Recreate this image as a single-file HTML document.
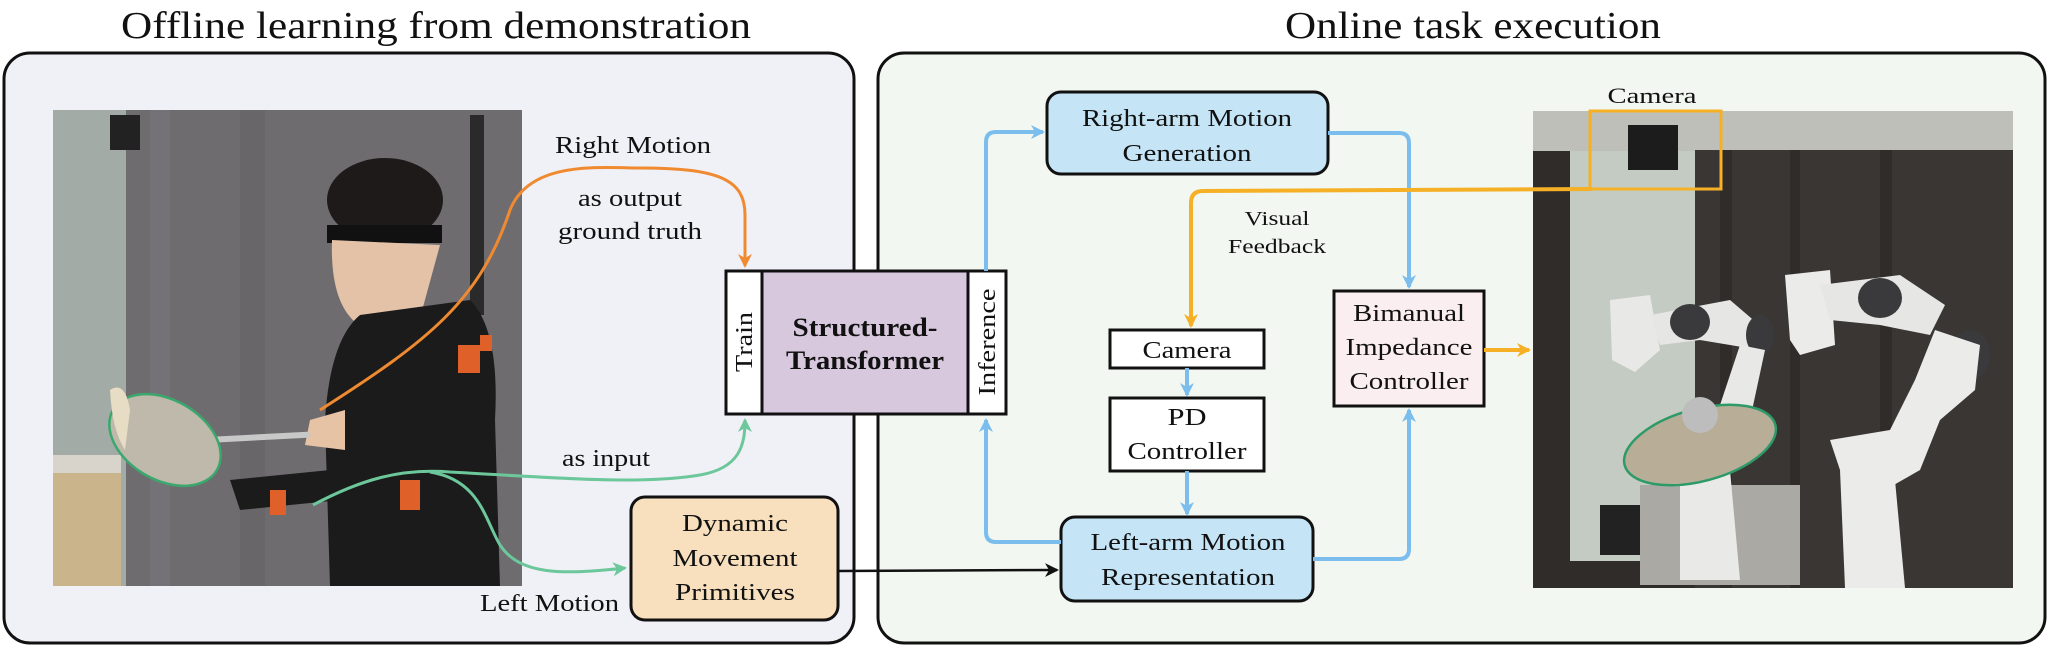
<!DOCTYPE html>
<html><head><meta charset="utf-8"><style>
html,body{margin:0;padding:0;background:#fff;}
svg{display:block;}
text{font-family:"Liberation Serif","Times New Roman",Times,serif;fill:#111;}
</style></head><body>
<svg width="2048" height="646" viewBox="0 0 2048 646" xmlns="http://www.w3.org/2000/svg" font-family="Liberation Serif, Times New Roman, serif">
<defs>
<marker id="ay" markerWidth="16" markerHeight="16" refX="12" refY="8" orient="auto" markerUnits="userSpaceOnUse"><path d="M0,1 L14,8 L0,15 L4,8 z" fill="#f5b025"/></marker>
<marker id="ab" markerWidth="16" markerHeight="16" refX="12" refY="8" orient="auto" markerUnits="userSpaceOnUse"><path d="M0,1 L14,8 L0,15 L4,8 z" fill="#7bbdec"/></marker>
<marker id="ag" markerWidth="16" markerHeight="16" refX="12" refY="8" orient="auto" markerUnits="userSpaceOnUse"><path d="M0,1 L14,8 L0,15 L4,8 z" fill="#6cc79a"/></marker>
<marker id="aor" markerWidth="16" markerHeight="16" refX="12" refY="8" orient="auto" markerUnits="userSpaceOnUse"><path d="M0,1 L14,8 L0,15 L4,8 z" fill="#f08a30"/></marker>
<marker id="ak" markerWidth="16" markerHeight="16" refX="12" refY="8" orient="auto" markerUnits="userSpaceOnUse"><path d="M0,1 L14,8 L0,15 L4,8 z" fill="#111"/></marker>
</defs>

<!-- titles -->
<text x="121" y="38" font-size="38" textLength="630" lengthAdjust="spacingAndGlyphs">Offline learning from demonstration</text>
<text x="1285" y="38" font-size="38" textLength="376" lengthAdjust="spacingAndGlyphs">Online task execution</text>

<!-- panels -->
<rect x="4" y="53" width="850" height="590" rx="26" fill="#f0f0f7" stroke="#111" stroke-width="3"/>
<rect x="878" y="53" width="1167" height="590" rx="26" fill="#f2f7f1" stroke="#111" stroke-width="3"/>

<!-- left photo -->
<g>
<rect x="53" y="110" width="469" height="476" fill="#6f6c70"/>
<rect x="53" y="110" width="73" height="476" fill="#a3aba7"/>
<rect x="150" y="110" width="20" height="476" fill="#7a777b" opacity="0.6"/>
<rect x="240" y="110" width="25" height="476" fill="#656266" opacity="0.6"/>
<rect x="53" y="455" width="68" height="131" fill="#c9b48c"/>
<rect x="53" y="455" width="68" height="18" fill="#d8d4cc"/>
<rect x="110" y="115" width="30" height="35" fill="#222"/>
<rect x="470" y="115" width="14" height="200" fill="#2a2a2a"/>
<ellipse cx="385" cy="200" rx="58" ry="42" fill="#1d1a19"/>
<rect x="327" y="225" width="115" height="18" fill="#111"/>
<path d="M332,240 Q330,300 355,322 L420,318 L440,245 z" fill="#e3c2a8"/>
<path d="M360,315 L470,300 Q500,330 495,420 L500,586 L330,586 L325,420 Q330,340 360,315 z" fill="#1b1b1b"/>
<rect x="458" y="345" width="22" height="28" fill="#e0602a"/>
<rect x="480" y="335" width="12" height="16" fill="#e0602a"/>
<path d="M310,420 L345,410 L345,450 L305,445 z" fill="#e7c3a6"/>
<path d="M230,480 L330,470 L340,500 L240,510 z" fill="#1b1b1b"/>
<rect x="270" y="490" width="16" height="25" fill="#e0602a"/>
<rect x="400" y="480" width="20" height="30" fill="#e0602a"/>
<rect x="150" y="440" width="160" height="6" fill="#c8c8c8" transform="rotate(-3 150 440)"/>
<ellipse cx="165" cy="440" rx="60" ry="40" fill="#bfb9ab" transform="rotate(30 165 440)"/>
<ellipse cx="165" cy="440" rx="60" ry="40" fill="none" stroke="#3aa86d" stroke-width="2.5" transform="rotate(30 165 440)"/>
<path d="M110,390 Q125,380 130,410 L125,450 Q112,430 110,390 z" fill="#e6ddc4"/>
</g>

<!-- right photo -->
<g>
<rect x="1533" y="111" width="480" height="477" fill="#302c2a"/>
<rect x="1570" y="111" width="125" height="450" fill="#c3cbc2"/>
<rect x="1533" y="111" width="480" height="40" fill="#bfbfb9"/>
<rect x="1695" y="150" width="318" height="438" fill="#3a3634"/>
<rect x="1720" y="150" width="12" height="438" fill="#2b2826" opacity="0.7"/>
<rect x="1790" y="150" width="10" height="438" fill="#2b2826" opacity="0.7"/>
<rect x="1880" y="150" width="12" height="438" fill="#2b2826" opacity="0.7"/>
<rect x="1628" y="125" width="50" height="45" fill="#1c1c1c"/>
<rect x="1600" y="505" width="60" height="50" fill="#222"/>
<rect x="1640" y="485" width="160" height="100" fill="#aaa9a4"/>
<path d="M1610,300 L1650,295 L1660,350 L1635,372 L1612,360 z" fill="#e8e8e6"/>
<path d="M1650,315 L1730,300 L1765,330 L1760,350 L1700,340 L1660,345 z" fill="#e6e6e4"/>
<ellipse cx="1690" cy="322" rx="20" ry="18" fill="#3a3a3c"/>
<ellipse cx="1760" cy="335" rx="14" ry="20" fill="#3a3a3c"/>
<path d="M1740,345 L1765,350 L1750,420 L1730,440 L1715,420 z" fill="#e8e8e6"/>
<path d="M1680,480 L1730,470 L1740,580 L1680,580 z" fill="#e9e9e7"/>
<ellipse cx="1700" cy="445" rx="78" ry="36" fill="#b8ae98" transform="rotate(-15 1700 445)"/>
<ellipse cx="1700" cy="445" rx="78" ry="36" fill="none" stroke="#2d9a68" stroke-width="2.5" transform="rotate(-15 1700 445)"/>
<ellipse cx="1700" cy="415" rx="18" ry="18" fill="#bdbdbd"/>
<path d="M1785,275 L1830,270 L1835,345 L1800,355 L1790,340 z" fill="#ebebe9"/>
<path d="M1820,285 L1900,275 L1945,305 L1930,335 L1880,325 L1830,320 z" fill="#e6e6e4"/>
<ellipse cx="1880" cy="298" rx="22" ry="20" fill="#3a3a3c"/>
<ellipse cx="1970" cy="355" rx="20" ry="25" fill="#3a3a3c"/>
<path d="M1935,330 L1980,345 L1975,390 L1940,420 L1920,470 L1885,490 L1840,470 L1830,440 L1890,430 L1915,380 z" fill="#ebebe9"/>
<path d="M1840,470 L1895,480 L1905,588 L1845,588 z" fill="#ebebe9"/>
<rect x="1590" y="111" width="131" height="78" fill="none" stroke="#f5b025" stroke-width="3"/>
</g>

<!-- Structured-Transformer -->
<rect x="726" y="271" width="280" height="143" fill="#d8c8de" stroke="#111" stroke-width="3"/>
<rect x="726" y="271" width="36" height="143" fill="#fff" stroke="#111" stroke-width="3"/>
<rect x="968" y="271" width="38" height="143" fill="#fff" stroke="#111" stroke-width="3"/>
<text x="865" y="336" font-size="26" font-weight="bold" text-anchor="middle" textLength="145" lengthAdjust="spacingAndGlyphs">Structured-</text>
<text x="865" y="369" font-size="26" font-weight="bold" text-anchor="middle" textLength="158" lengthAdjust="spacingAndGlyphs">Transformer</text>
<text transform="translate(752,342) rotate(-90)" font-size="24" text-anchor="middle" textLength="60" lengthAdjust="spacingAndGlyphs">Train</text>
<text transform="translate(995,342) rotate(-90)" font-size="24" text-anchor="middle" textLength="107" lengthAdjust="spacingAndGlyphs">Inference</text>

<!-- DMP -->
<rect x="631" y="497" width="207" height="123" rx="14" fill="#f8dfbd" stroke="#111" stroke-width="3"/>
<text x="735" y="531" font-size="24" text-anchor="middle" textLength="106" lengthAdjust="spacingAndGlyphs">Dynamic</text>
<text x="735" y="566" font-size="24" text-anchor="middle" textLength="125" lengthAdjust="spacingAndGlyphs">Movement</text>
<text x="735" y="600" font-size="24" text-anchor="middle" textLength="120" lengthAdjust="spacingAndGlyphs">Primitives</text>

<!-- left labels -->
<text x="555" y="153" font-size="24" textLength="156" lengthAdjust="spacingAndGlyphs">Right Motion</text>
<text x="630" y="206" font-size="24" text-anchor="middle" textLength="104" lengthAdjust="spacingAndGlyphs">as output</text>
<text x="630" y="239" font-size="24" text-anchor="middle" textLength="144" lengthAdjust="spacingAndGlyphs">ground truth</text>
<text x="562" y="466" font-size="24" textLength="88" lengthAdjust="spacingAndGlyphs">as input</text>
<text x="480" y="611" font-size="24" textLength="139" lengthAdjust="spacingAndGlyphs">Left Motion</text>

<!-- orange curve -->
<path d="M320,410 C430,340 480,300 510,210 C530,160 600,168 640,168 C720,168 745,180 745,215 L745,266" fill="none" stroke="#f08a30" stroke-width="3" marker-end="url(#aor)"/>
<!-- green curves -->
<path d="M313,505 C360,480 400,468 450,472 C560,478 640,485 700,475 C740,468 745,445 745,420" fill="none" stroke="#6cc79a" stroke-width="3" marker-end="url(#ag)"/>
<path d="M430,472 C480,480 485,520 500,545 C520,575 560,575 625,568" fill="none" stroke="#6cc79a" stroke-width="3" marker-end="url(#ag)"/>

<!-- black arrow -->
<path d="M838,571 L1057,570" fill="none" stroke="#111" stroke-width="2.5" marker-end="url(#ak)"/>

<!-- right boxes -->
<rect x="1047" y="92" width="281" height="82" rx="14" fill="#c5e5f7" stroke="#111" stroke-width="3"/>
<text x="1187" y="126" font-size="24" text-anchor="middle" textLength="210" lengthAdjust="spacingAndGlyphs">Right-arm Motion</text>
<text x="1187" y="161" font-size="24" text-anchor="middle" textLength="129" lengthAdjust="spacingAndGlyphs">Generation</text>

<rect x="1061" y="517" width="252" height="84" rx="14" fill="#c5e5f7" stroke="#111" stroke-width="3"/>
<text x="1188" y="550" font-size="24" text-anchor="middle" textLength="195" lengthAdjust="spacingAndGlyphs">Left-arm Motion</text>
<text x="1188" y="585" font-size="24" text-anchor="middle" textLength="174" lengthAdjust="spacingAndGlyphs">Representation</text>

<rect x="1110" y="330" width="154" height="38" fill="#fff" stroke="#111" stroke-width="3"/>
<text x="1187" y="358" font-size="24" text-anchor="middle" textLength="89" lengthAdjust="spacingAndGlyphs">Camera</text>
<rect x="1110" y="398" width="154" height="73" fill="#fff" stroke="#111" stroke-width="3"/>
<text x="1187" y="425" font-size="24" text-anchor="middle" textLength="39" lengthAdjust="spacingAndGlyphs">PD</text>
<text x="1187" y="459" font-size="24" text-anchor="middle" textLength="119" lengthAdjust="spacingAndGlyphs">Controller</text>

<rect x="1334" y="291" width="150" height="115" fill="#fbeef0" stroke="#111" stroke-width="3"/>
<text x="1409" y="321" font-size="24" text-anchor="middle" textLength="112" lengthAdjust="spacingAndGlyphs">Bimanual</text>
<text x="1409" y="355" font-size="24" text-anchor="middle" textLength="127" lengthAdjust="spacingAndGlyphs">Impedance</text>
<text x="1409" y="389" font-size="24" text-anchor="middle" textLength="119" lengthAdjust="spacingAndGlyphs">Controller</text>

<text x="1277" y="225" font-size="20" text-anchor="middle" textLength="65" lengthAdjust="spacingAndGlyphs">Visual</text>
<text x="1277" y="253" font-size="20" text-anchor="middle" textLength="98" lengthAdjust="spacingAndGlyphs">Feedback</text>
<text x="1652" y="103" font-size="22" text-anchor="middle" textLength="89" lengthAdjust="spacingAndGlyphs">Camera</text>

<!-- blue connectors -->
<path d="M986,271 L986,142 Q986,132 996,132 L1043,132" fill="none" stroke="#7bbdec" stroke-width="4" marker-end="url(#ab)"/>
<path d="M1061,542 L996,542 Q986,542 986,532 L986,420" fill="none" stroke="#7bbdec" stroke-width="4" marker-end="url(#ab)"/>
<path d="M1328,133 L1399,133 Q1409,133 1409,143 L1409,287" fill="none" stroke="#7bbdec" stroke-width="4" marker-end="url(#ab)"/>
<path d="M1313,559 L1399,559 Q1409,559 1409,549 L1409,410" fill="none" stroke="#7bbdec" stroke-width="4" marker-end="url(#ab)"/>
<path d="M1187,368 L1187,395" fill="none" stroke="#7bbdec" stroke-width="4" marker-end="url(#ab)"/>
<path d="M1187,471 L1187,514" fill="none" stroke="#7bbdec" stroke-width="4" marker-end="url(#ab)"/>

<!-- yellow connectors -->
<path d="M1592,189 L1203,191 Q1191,191 1191,203 L1191,326" fill="none" stroke="#f5b025" stroke-width="4" marker-end="url(#ay)"/>
<path d="M1484,350 L1529,350" fill="none" stroke="#f5b025" stroke-width="4" marker-end="url(#ay)"/>
</svg>
</body></html>
